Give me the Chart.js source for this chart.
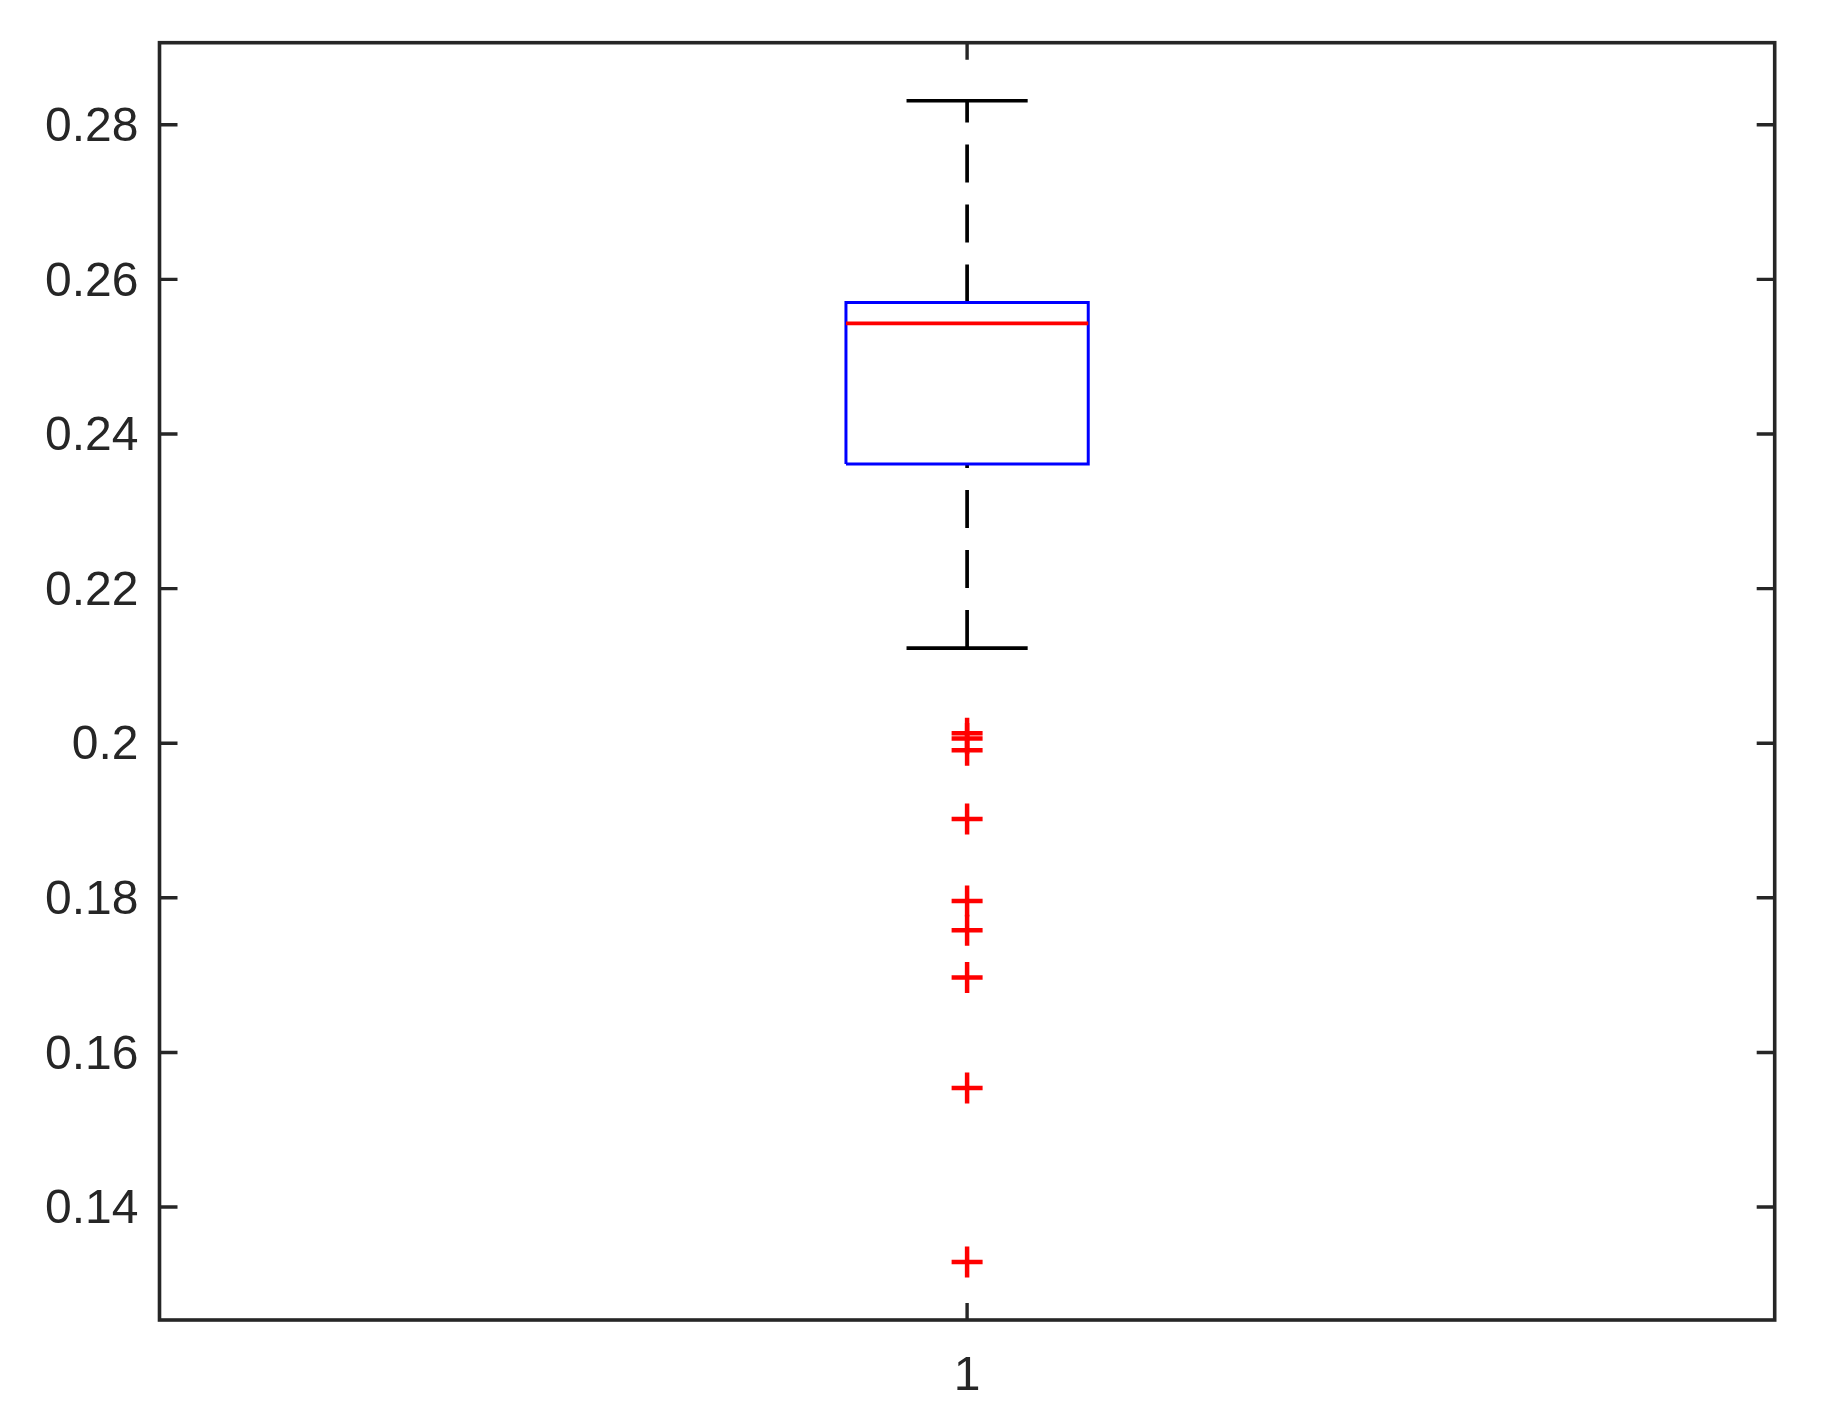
<!DOCTYPE html>
<html>
<head>
<meta charset="utf-8">
<title>Boxplot</title>
<script src="https://cdn.jsdelivr.net/npm/chart.js@4/dist/chart.umd.min.js"></script>
<style>
  html, body { margin: 0; padding: 0; background: #fff; }
  #wrap { width: 1824px; height: 1423px; }
</style>
</head>
<body>
<div id="wrap"><canvas id="chart" width="1824" height="1423"></canvas></div>
<script>
// Boxplot values (one group)
const groupPositions = [1];
const xTickLabels = ['1'];
const lowerWhisker = [0.2123];
const q1Values = [0.2361];
const medianValues = [0.2543];
const q3Values = [0.2570];
const upperWhisker = [0.2831];
const outlierValues = [0.2013, 0.2006, 0.1991, 0.1902, 0.1796, 0.1758, 0.1697, 0.1554, 0.1329];

const yTicks = [0.14, 0.16, 0.18, 0.2, 0.22, 0.24, 0.26, 0.28];
const yTickLabels = ['0.14', '0.16', '0.18', '0.2', '0.22', '0.24', '0.26', '0.28'];

// MATLAB-like limits: data range plus 5% each side
const dataMin = Math.min(...outlierValues, ...lowerWhisker);
const dataMax = Math.max(...upperWhisker);
const pad = (dataMax - dataMin) * 0.05;

const axisColor = '#262626';
const boxHalf = 0.075;
const capHalf = 0.0375;
const font = { family: "'Liberation Sans', Arial, sans-serif", size: 48 };

const datasets = [];
groupPositions.forEach(function (p, i) {
    datasets.push({
        label: 'outliers',
        data: outlierValues.map(v => ({ x: p, y: v })),
        showLine: false,
        pointStyle: 'cross',
        pointRadius: 15.5,
        pointBorderColor: '#ff0000',
        pointBorderWidth: 4.5
    });
    datasets.push({
        label: 'median',
        data: [{ x: p - boxHalf, y: medianValues[i] }, { x: p + boxHalf, y: medianValues[i] }],
        borderColor: '#ff0000', borderWidth: 3.6
    });
    datasets.push({
        label: 'box',
        data: [
            { x: p - boxHalf, y: q1Values[i] }, { x: p + boxHalf, y: q1Values[i] },
            { x: p + boxHalf, y: q3Values[i] }, { x: p - boxHalf, y: q3Values[i] },
            { x: p - boxHalf, y: q1Values[i] }
        ],
        borderColor: '#0000ff', borderWidth: 3, borderJoinStyle: 'miter'
    });
    datasets.push({
        label: 'upper cap',
        data: [{ x: p - capHalf, y: upperWhisker[i] }, { x: p + capHalf, y: upperWhisker[i] }],
        borderColor: '#000', borderWidth: 3.7
    });
    datasets.push({
        label: 'lower cap',
        data: [{ x: p - capHalf, y: lowerWhisker[i] }, { x: p + capHalf, y: lowerWhisker[i] }],
        borderColor: '#000', borderWidth: 3.7
    });
    datasets.push({
        label: 'upper whisker',
        data: [{ x: p, y: q3Values[i] }, { x: p, y: upperWhisker[i] }],
        borderColor: '#000', borderWidth: 3.7, borderDash: [38, 22]
    });
    datasets.push({
        label: 'lower whisker',
        data: [{ x: p, y: lowerWhisker[i] }, { x: p, y: q1Values[i] }],
        borderColor: '#000', borderWidth: 3.7, borderDash: [38, 22]
    });
});
datasets.forEach(d => {
    if (d.showLine === undefined) { d.showLine = true; d.pointRadius = 0; }
    d.fill = false;
    d.tension = 0;
});

// frame round the axes plus inward ticks on all four sides
const matlabAxes = {
    id: 'matlabAxes',
    afterDatasetsDraw(chart) {
        const { ctx, chartArea: a, scales: { x, y } } = chart;
        ctx.save();
        ctx.strokeStyle = axisColor;
        ctx.lineWidth = 3.4;
        ctx.beginPath();
        y.ticks.forEach(t => {
            const py = y.getPixelForValue(t.value);
            ctx.moveTo(a.left, py); ctx.lineTo(a.left + 18, py);
            ctx.moveTo(a.right, py); ctx.lineTo(a.right - 18, py);
        });
        x.ticks.forEach(t => {
            const px = x.getPixelForValue(t.value);
            ctx.moveTo(px, a.bottom); ctx.lineTo(px, a.bottom - 17);
            ctx.moveTo(px, a.top); ctx.lineTo(px, a.top + 17);
        });
        ctx.stroke();
        ctx.lineWidth = 3.6;
        ctx.strokeRect(a.left, a.top, a.right - a.left, a.bottom - a.top);
        ctx.restore();
    }
};

new Chart(document.getElementById('chart'), {
    type: 'scatter',
    data: { datasets: datasets },
    plugins: [matlabAxes],
    options: {
        responsive: false,
        animation: false,
        layout: { padding: { left: 0, top: 42.7, right: 49.3, bottom: 0 } },
        plugins: { legend: { display: false }, tooltip: { enabled: false } },
        scales: {
            x: {
                type: 'linear', min: 0.5, max: 1.5,
                grid: { display: false, drawTicks: false },
                border: { display: false },
                afterBuildTicks: s => { s.ticks = groupPositions.map(v => ({ value: v })); },
                afterFit: s => { s.height = 103; s.paddingLeft = 0; s.paddingRight = 0; },
                ticks: {
                    font: font, color: axisColor, padding: 28, maxRotation: 0,
                    callback: (v, i) => xTickLabels[i]
                }
            },
            y: {
                type: 'linear', min: dataMin - pad, max: dataMax + pad,
                grid: { display: false, drawTicks: false },
                border: { display: false },
                afterBuildTicks: s => { s.ticks = yTicks.map(v => ({ value: v })); },
                afterFit: s => { s.width = 159.5; s.paddingTop = 0; s.paddingBottom = 0; },
                ticks: {
                    font: font, color: axisColor, padding: 21, labelOffset: 3,
                    callback: (v, i) => yTickLabels[i]
                }
            }
        }
    }
});
</script>
</body>
</html>
